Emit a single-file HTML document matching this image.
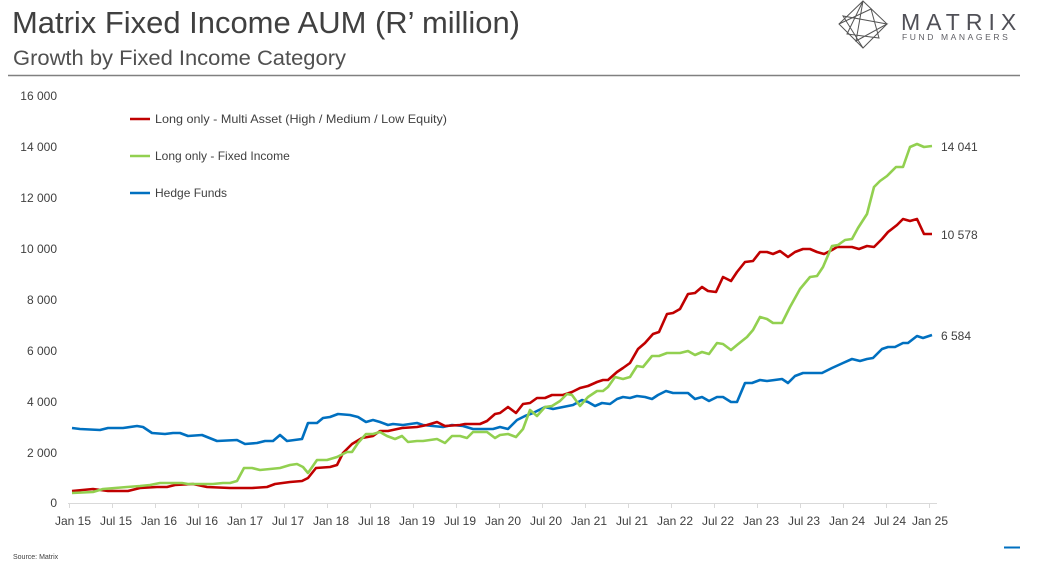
<!DOCTYPE html>
<html><head><meta charset="utf-8"><style>
html,body{margin:0;padding:0;background:#fff;}
body{width:1040px;height:569px;overflow:hidden;position:relative;font-family:"Liberation Sans",sans-serif;}
</style></head><body>
<svg width="1040" height="569" viewBox="0 0 1040 569" xmlns="http://www.w3.org/2000/svg" style="position:absolute;left:0;top:0;font-family:'Liberation Sans',sans-serif">
<text x="12" y="33" font-size="31" fill="#404040" textLength="508" lengthAdjust="spacingAndGlyphs">Matrix Fixed Income AUM (R’ million)</text>
<text x="13" y="65" font-size="21" fill="#505050" textLength="333" lengthAdjust="spacingAndGlyphs">Growth by Fixed Income Category</text>
<line x1="8" y1="75.5" x2="1020" y2="75.5" stroke="#808080" stroke-width="1.5"/>
<!-- logo -->
<g fill="none" stroke="#555" stroke-width="1">
<polygon points="863,1 887,24 863,48 839,24"/>
<polyline points="839,24 871,9 879,38 847,34 863,1 856,41 887,24 843,16 863,48"/>
</g>
<text x="901" y="30" font-size="23" fill="#505057" letter-spacing="6">MATRIX</text>
<text x="902" y="40" font-size="8.5" fill="#606066" letter-spacing="2.6">FUND MANAGERS</text>
<!-- y labels -->
<g font-size="12" fill="#404040" text-anchor="end">
<text x="57" y="507">0</text><text x="57" y="457">2 000</text><text x="57" y="406">4 000</text>
<text x="57" y="355">6 000</text><text x="57" y="304">8 000</text><text x="57" y="253">10 000</text>
<text x="57" y="202">12 000</text><text x="57" y="151">14 000</text><text x="57" y="100">16 000</text>
</g>
<line x1="68" y1="503.5" x2="937" y2="503.5" stroke="#d9d9d9" stroke-width="1"/>
<g stroke="#d9d9d9">
<line x1="69.5" y1="503" x2="69.5" y2="508"/><line x1="112.5" y1="503" x2="112.5" y2="508"/><line x1="155.5" y1="503" x2="155.5" y2="508"/><line x1="198.5" y1="503" x2="198.5" y2="508"/><line x1="241.5" y1="503" x2="241.5" y2="508"/><line x1="284.5" y1="503" x2="284.5" y2="508"/><line x1="327.5" y1="503" x2="327.5" y2="508"/><line x1="370.5" y1="503" x2="370.5" y2="508"/><line x1="413.5" y1="503" x2="413.5" y2="508"/><line x1="456.5" y1="503" x2="456.5" y2="508"/><line x1="499.5" y1="503" x2="499.5" y2="508"/><line x1="542.5" y1="503" x2="542.5" y2="508"/><line x1="585.5" y1="503" x2="585.5" y2="508"/><line x1="628.5" y1="503" x2="628.5" y2="508"/><line x1="671.5" y1="503" x2="671.5" y2="508"/><line x1="714.5" y1="503" x2="714.5" y2="508"/><line x1="757.5" y1="503" x2="757.5" y2="508"/><line x1="800.5" y1="503" x2="800.5" y2="508"/><line x1="843.5" y1="503" x2="843.5" y2="508"/><line x1="886.5" y1="503" x2="886.5" y2="508"/><line x1="929.5" y1="503" x2="929.5" y2="508"/>
</g>
<g font-size="12" fill="#404040" text-anchor="middle">
<text x="73" y="525">Jan 15</text><text x="116" y="525">Jul 15</text><text x="159" y="525">Jan 16</text><text x="202" y="525">Jul 16</text><text x="245" y="525">Jan 17</text><text x="288" y="525">Jul 17</text><text x="331" y="525">Jan 18</text><text x="374" y="525">Jul 18</text><text x="417" y="525">Jan 19</text><text x="460" y="525">Jul 19</text><text x="503" y="525">Jan 20</text><text x="546" y="525">Jul 20</text><text x="589" y="525">Jan 21</text><text x="632" y="525">Jul 21</text><text x="675" y="525">Jan 22</text><text x="718" y="525">Jul 22</text><text x="761" y="525">Jan 23</text><text x="804" y="525">Jul 23</text><text x="847" y="525">Jan 24</text><text x="890" y="525">Jul 24</text><text x="930" y="525">Jan 25</text>
</g>
<g fill="none" stroke-width="2.6" stroke-linejoin="round">
<polyline stroke="#0070c0" points="72,428 80,429 100,430 108,428 123,428 137,426 143,427 152,433 165,434 173,433 180,433 188,436 202,435 217,441 237,440 245,444 257,443 265,441 273,441 280,435 287,441 302,439 308,423 317,423 323,418 330,417 338,414 350,415 358,417 366,422 373,420 380,422 388,425 393,424 403,425 417,423 423,425 443,427 452,425 463,426 473,429 493,429 500,427 508,429 517,420 525,416 533,413 545,407 553,409 573,405 582,400 588,402 595,406 602,403 610,404 617,399 623,397 630,398 637,396 645,397 652,399 658,395 666,391 673,393 682,393 688,393 695,399 702,397 709,401 717,397 723,397 731,402 737,402 745,383 752,383 760,380 767,381 782,379 788,383 795,376 803,373 822,373 832,368 843,363 852,359 860,361 867,359 873,358 882,349 888,347 895,347 903,343 908,343 917,336 923,338 932,335"/>
<polyline stroke="#c00000" points="72,491 93,489 108,491 128,491 140,488 157,487 167,487 175,485 193,484 207,487 230,488 252,488 267,487 275,484 290,482 302,481 308,478 316,468 330,467 337,465 343,453 352,444 362,438 373,436 380,431 388,431 402,428 417,427 427,425 437,422 445,426 460,425 465,424 480,424 487,421 495,414 500,413 508,407 516,413 523,404 530,403 537,398 545,398 552,395 563,395 572,392 580,388 588,386 597,382 603,380 608,380 617,372 623,368 630,363 638,349 645,343 653,334 659,332 667,314 673,313 680,309 688,294 695,293 702,287 708,291 716,292 723,277 731,281 737,272 745,262 753,261 760,252 767,252 773,254 780,251 788,257 795,252 803,249 810,249 817,252 824,254 832,250 837,247 852,247 859,249 867,246 874,247 882,239 888,232 897,225 903,219 910,221 917,219 924,234 932,234"/>
<polyline stroke="#92d050" points="72,493 93,492 103,489 115,488 127,487 140,486 150,485 160,483 172,483 182,483 188,484 213,484 223,483 230,483 237,481 244,468 252,468 260,470 270,469 280,468 290,465 297,464 303,467 308,473 317,460 327,460 337,457 347,452 352,452 358,443 366,434 373,434 380,432 387,436 395,439 402,436 408,442 417,441 423,441 437,439 445,443 452,436 460,436 467,438 473,432 487,432 495,438 500,435 508,434 516,437 523,429 530,410 537,416 545,407 552,406 560,401 567,394 572,395 580,406 588,397 597,391 603,391 608,387 615,377 623,379 630,377 637,366 643,367 652,356 659,356 667,353 680,353 688,351 695,355 702,352 709,354 717,343 723,344 731,350 737,345 747,337 753,330 760,317 767,319 773,323 782,323 790,307 800,289 810,277 817,276 823,267 832,246 838,245 845,240 852,239 858,228 867,214 874,187 880,181 887,176 896,167 903,167 910,147 917,144 924,147 932,146"/>
</g>
<!-- legend -->
<g stroke-width="2.6">
<line x1="130" y1="119" x2="150" y2="119" stroke="#c00000"/>
<line x1="130" y1="156" x2="150" y2="156" stroke="#92d050"/>
<line x1="130" y1="193" x2="150" y2="193" stroke="#0070c0"/>
</g>
<g font-size="12" fill="#404040">
<text x="155" y="123" textLength="292" lengthAdjust="spacingAndGlyphs">Long only - Multi Asset (High /  Medium / Low Equity)</text>
<text x="155" y="160">Long only - Fixed Income</text>
<text x="155" y="197">Hedge Funds</text>
<text x="941" y="151">14 041</text>
<text x="941" y="239">10 578</text>
<text x="941" y="340">6 584</text>
</g>
<text x="13" y="559" font-size="7" fill="#404040">Source: Matrix</text>
<line x1="1004" y1="547.5" x2="1020" y2="547.5" stroke="#0070c0" stroke-width="2"/>
</svg>
</body></html>
